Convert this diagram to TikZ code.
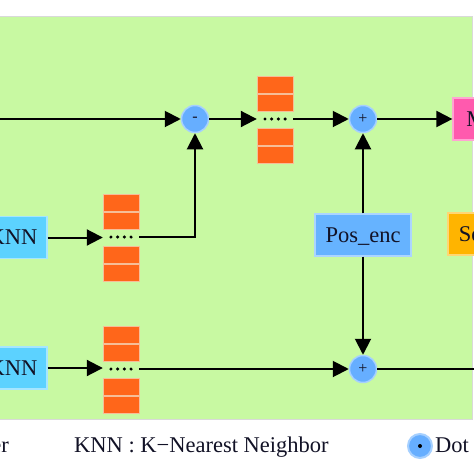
\documentclass[tikz,border=0pt]{standalone}
\usepackage{fontspec}
\setmainfont{Liberation Serif}
\usetikzlibrary{arrows.meta}
\definecolor{bggreen}{HTML}{C8F9A2}
\definecolor{stackor}{HTML}{FF661A}
\definecolor{stackedge}{HTML}{F6BE98}
\definecolor{knncyan}{HTML}{5CD2FF}
\definecolor{posblue}{HTML}{66B3FF}
\definecolor{circblue}{HTML}{66AEFF}
\definecolor{circedge}{HTML}{A6D0FF}
\definecolor{mpink}{HTML}{FF5AAE}
\definecolor{segold}{HTML}{FFB400}
\definecolor{inktext}{HTML}{121226}
\newcommand\mkstack[3]{%
  \node[cell] (#1a) at (#2,#3-34) {};
  \node[cell] (#1b) at (#2,#3-16) {};
  \node[cell] (#1c) at (#2,#3+18) {};
  \node[cell] (#1d) at (#2,#3+36) {};
  \node[dotrow] (#1) at (#2,#3) {};
}
\begin{document}
\begin{tikzpicture}[x=1pt,y=-1pt,
  bigtxt/.style={font=\fontsize{22.5}{24}\selectfont, text=inktext},
  box/.style={rectangle, fill=#1, draw=#1!55!white, line width=1.2pt, inner sep=0pt,
    minimum height=42pt, text height=14.5pt, text depth=0pt, bigtxt},
  cell/.style={rectangle, fill=stackor, draw=stackedge, line width=1pt, inner sep=0pt,
    minimum width=36pt, minimum height=17pt},
  dotrow/.style={rectangle, inner sep=0pt, minimum width=36pt, minimum height=5pt,
    path picture={\foreach \i in {-1.5,-0.5,0.5,1.5}
      \fill[black] ([xshift=\i*6.7pt]path picture bounding box.center) circle (1.7pt);}},
  circ/.style={circle, fill=circblue, draw=circedge, line width=1.5pt, minimum size=27pt,
    inner sep=0pt, font=\fontsize{16}{16}\selectfont, text=inktext},
  arr/.style={-{Triangle[length=16pt,width=16pt]}, line width=2pt, draw=black},
  ln/.style={line width=2pt, draw=black}
]
\useasboundingbox (0,0) rectangle (474,474);
\clip (0,0) rectangle (474,474);
\fill[white] (0,0) rectangle (474,474);
\draw[fill=bggreen, draw=black!15, line width=1pt] (-5,16) rectangle (472,419);

% top row
\coordinate (lstart) at (0,119);
\node[circ] (m1) at (195,119) {-};
\mkstack{st1}{275}{119}
\node[circ] (p1) at (363,119) {+};
\node[box=mpink, minimum width=73pt] (mlp) at (489.5,119) {MLP};

% middle row
\node[box=knncyan, minimum width=68pt] (knn1) at (13,237.5) {KNN};
\mkstack{st2}{121}{237}
\node[box=posblue, minimum width=96pt] (pos) at (363,235) {Pos\_enc};
\node[box=segold, minimum width=58pt] (se) at (477,234) {Self};

% bottom row
\node[box=knncyan, minimum width=68pt] (knn2) at (13,368) {KNN};
\mkstack{st3}{121}{369}
\node[circ] (p2) at (363,369) {+};
\coordinate (rend) at (476,369);

% connectors
\draw[arr] (lstart) -- (m1.west);
\draw[arr] (m1.east) -- (st1.west);
\draw[arr] (st1.east) -- (p1.west);
\draw[arr] (p1.east) -- (mlp.west);
\draw[arr] (knn1.east) -- (knn1.east -| st2.west);
\draw[arr] (st2.east) -| (m1.south);
\draw[arr] (pos.north) -- (p1.south);
\draw[arr] (pos.south) -- (p2.north);
\draw[arr] (knn2.east) -- (knn2.east -| st3.west);
\draw[arr] (st3.east) -- (p2.west);
\draw[ln] (p2.east) -- (rend);

% legend
\node[bigtxt, anchor=base east, inner sep=0pt] (lg1) at (9,452) {er};
\node[bigtxt, anchor=base west, inner sep=0pt] (lg2) at (74,452) {KNN : K−Nearest Neighbor};
\node[circle, fill=circblue, draw=circedge, line width=2pt, minimum size=24pt, inner sep=0pt] (lgc) at (420,446) {};
\fill[black] (lgc.center) circle (2pt);
\node[bigtxt, anchor=base west, inner sep=0pt] (lg3) at (435,452) {Dot product};
\end{tikzpicture}
\end{document}
